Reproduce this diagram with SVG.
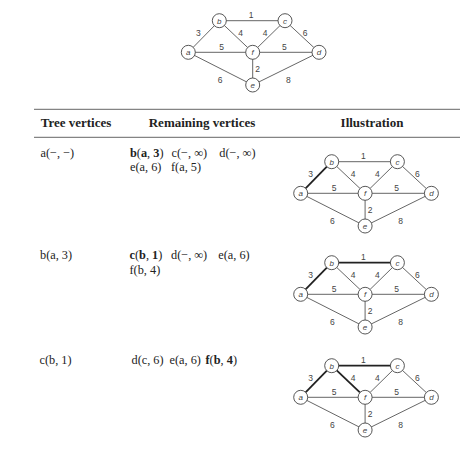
<svg xmlns="http://www.w3.org/2000/svg" width="474" height="449" viewBox="0 0 474 449">
<style>
.e{stroke:#555;stroke-width:0.9;fill:none}
.eb{stroke:#222;stroke-width:1.8;fill:none}
.n circle{fill:#fff;stroke:#444;stroke-width:0.9}
.n text{font-family:"Liberation Sans",Arial,sans-serif;font-size:8px;font-style:italic;fill:#444;text-anchor:middle}
.w{font-family:"Liberation Sans",Arial,sans-serif;font-size:8.5px;fill:#444;text-anchor:middle}
.t{font-family:"Liberation Serif","Times New Roman",serif;font-size:12.3px;fill:#222}
.h{font-family:"Liberation Serif","Times New Roman",serif;font-size:13px;font-weight:bold;fill:#222;text-anchor:middle}
.b{font-weight:bold}
.rule{stroke:#666;stroke-width:1}
</style>
<rect width="474" height="449" fill="#fff"/>
<defs>
<g id="lab">
<text class="w" x="62.7" y="-34.3">1</text>
<text class="w" x="10" y="-16">3</text>
<text class="w" x="52.4" y="-16">4</text>
<text class="w" x="76.7" y="-16">4</text>
<text class="w" x="116.7" y="-16.6">6</text>
<text class="w" x="33.4" y="-2.6">5</text>
<text class="w" x="96" y="-2.6">5</text>
<text class="w" x="69.4" y="20">2</text>
<text class="w" x="31.7" y="30.7">6</text>
<text class="w" x="100" y="30.7">8</text>
</g>
</defs>

<!-- graph 0 -->
<g id="graph0" transform="translate(188.3,52.3)">
<g id="g0-edges">
<line class="e" x1="0" y1="0" x2="31" y2="-31.6"/>
<line class="e" x1="31" y1="-31.6" x2="96.7" y2="-31.6"/>
<line class="e" x1="31" y1="-31.6" x2="64.4" y2="0"/>
<line class="e" x1="96.7" y1="-31.6" x2="64.4" y2="0"/>
<line class="e" x1="96.7" y1="-31.6" x2="130.7" y2="0"/>
<line class="e" x1="0" y1="0" x2="130.7" y2="0"/>
<line class="e" x1="64.4" y1="0" x2="64.4" y2="32.7"/>
<line class="e" x1="0" y1="0" x2="64.4" y2="32.7"/>
<line class="e" x1="130.7" y1="0" x2="64.4" y2="32.7"/>
<use href="#lab"/>
</g>
<g id="g0-a" class="n"><circle cx="0" cy="0" r="7"/><text x="0" y="2.8">a</text></g>
<g id="g0-b" class="n"><circle cx="31" cy="-31.6" r="7"/><text x="31" y="-28.8">b</text></g>
<g id="g0-c" class="n"><circle cx="96.7" cy="-31.6" r="7"/><text x="96.7" y="-28.8">c</text></g>
<g id="g0-f" class="n"><circle cx="64.4" cy="0" r="7"/><text x="64.4" y="2.8">f</text></g>
<g id="g0-d" class="n"><circle cx="130.7" cy="0" r="7"/><text x="130.7" y="2.8">d</text></g>
<g id="g0-e" class="n"><circle cx="64.4" cy="32.7" r="7"/><text x="64.4" y="35.5">e</text></g>
</g>

<!-- table -->
<line class="rule" x1="34" y1="109.3" x2="460" y2="109.3"/>
<line class="rule" x1="34" y1="137.3" x2="460" y2="137.3"/>
<text class="h" x="76" y="127.3">Tree vertices</text>
<text class="h" x="202" y="127.3">Remaining vertices</text>
<text class="h" x="372" y="127.3">Illustration</text>

<text class="t" x="40.5" y="156.7">a(−, −)</text>
<text class="t" x="130" y="156.7"><tspan class="b">b</tspan>(<tspan class="b">a</tspan>, <tspan class="b">3</tspan>)</text>
<text class="t" x="171.5" y="156.7">c(−, ∞)</text>
<text class="t" x="219.3" y="156.7">d(−, ∞)</text>
<text class="t" x="130" y="171">e(a, 6)</text>
<text class="t" x="171" y="171">f(a, 5)</text>

<text class="t" x="40" y="259">b(a, 3)</text>
<text class="t" x="129.5" y="259"><tspan class="b">c</tspan>(<tspan class="b">b</tspan>, <tspan class="b">1</tspan>)</text>
<text class="t" x="171" y="259">d(−, ∞)</text>
<text class="t" x="218.3" y="259">e(a, 6)</text>
<text class="t" x="129.5" y="273.5">f(b, 4)</text>

<text class="t" x="39.5" y="363.5">c(b, 1)</text>
<text class="t" x="131.5" y="363.5">d(c, 6)</text>
<text class="t" x="169.5" y="363.5">e(a, 6)</text>
<text class="t" x="205.5" y="363.5"><tspan class="b">f</tspan>(<tspan class="b">b</tspan>, <tspan class="b">4</tspan>)</text>

<!-- graph 1 -->
<g id="graph1" transform="translate(300.7,193.3)">
<g id="g1-edges">
<line class="eb" x1="0" y1="0" x2="31" y2="-31.6"/>
<line class="e" x1="31" y1="-31.6" x2="96.7" y2="-31.6"/>
<line class="e" x1="31" y1="-31.6" x2="64.4" y2="0"/>
<line class="e" x1="96.7" y1="-31.6" x2="64.4" y2="0"/>
<line class="e" x1="96.7" y1="-31.6" x2="130.7" y2="0"/>
<line class="e" x1="0" y1="0" x2="130.7" y2="0"/>
<line class="e" x1="64.4" y1="0" x2="64.4" y2="32.7"/>
<line class="e" x1="0" y1="0" x2="64.4" y2="32.7"/>
<line class="e" x1="130.7" y1="0" x2="64.4" y2="32.7"/>
<use href="#lab"/>
</g>
<g id="g1-a" class="n"><circle cx="0" cy="0" r="7"/><text x="0" y="2.8">a</text></g>
<g id="g1-b" class="n"><circle cx="31" cy="-31.6" r="7"/><text x="31" y="-28.8">b</text></g>
<g id="g1-c" class="n"><circle cx="96.7" cy="-31.6" r="7"/><text x="96.7" y="-28.8">c</text></g>
<g id="g1-f" class="n"><circle cx="64.4" cy="0" r="7"/><text x="64.4" y="2.8">f</text></g>
<g id="g1-d" class="n"><circle cx="130.7" cy="0" r="7"/><text x="130.7" y="2.8">d</text></g>
<g id="g1-e" class="n"><circle cx="64.4" cy="32.7" r="7"/><text x="64.4" y="35.5">e</text></g>
</g>

<!-- graph 2 -->
<g id="graph2" transform="translate(300.7,294.3)">
<g id="g2-edges">
<line class="eb" x1="0" y1="0" x2="31" y2="-31.6"/>
<line class="eb" x1="31" y1="-31.6" x2="96.7" y2="-31.6"/>
<line class="e" x1="31" y1="-31.6" x2="64.4" y2="0"/>
<line class="e" x1="96.7" y1="-31.6" x2="64.4" y2="0"/>
<line class="e" x1="96.7" y1="-31.6" x2="130.7" y2="0"/>
<line class="e" x1="0" y1="0" x2="130.7" y2="0"/>
<line class="e" x1="64.4" y1="0" x2="64.4" y2="32.7"/>
<line class="e" x1="0" y1="0" x2="64.4" y2="32.7"/>
<line class="e" x1="130.7" y1="0" x2="64.4" y2="32.7"/>
<use href="#lab"/>
</g>
<g id="g2-a" class="n"><circle cx="0" cy="0" r="7"/><text x="0" y="2.8">a</text></g>
<g id="g2-b" class="n"><circle cx="31" cy="-31.6" r="7"/><text x="31" y="-28.8">b</text></g>
<g id="g2-c" class="n"><circle cx="96.7" cy="-31.6" r="7"/><text x="96.7" y="-28.8">c</text></g>
<g id="g2-f" class="n"><circle cx="64.4" cy="0" r="7"/><text x="64.4" y="2.8">f</text></g>
<g id="g2-d" class="n"><circle cx="130.7" cy="0" r="7"/><text x="130.7" y="2.8">d</text></g>
<g id="g2-e" class="n"><circle cx="64.4" cy="32.7" r="7"/><text x="64.4" y="35.5">e</text></g>
</g>

<!-- graph 3 -->
<g id="graph3" transform="translate(300.7,397.3)">
<g id="g3-edges">
<line class="eb" x1="0" y1="0" x2="31" y2="-31.6"/>
<line class="eb" x1="31" y1="-31.6" x2="96.7" y2="-31.6"/>
<line class="eb" x1="31" y1="-31.6" x2="64.4" y2="0"/>
<line class="e" x1="96.7" y1="-31.6" x2="64.4" y2="0"/>
<line class="e" x1="96.7" y1="-31.6" x2="130.7" y2="0"/>
<line class="e" x1="0" y1="0" x2="130.7" y2="0"/>
<line class="e" x1="64.4" y1="0" x2="64.4" y2="32.7"/>
<line class="e" x1="0" y1="0" x2="64.4" y2="32.7"/>
<line class="e" x1="130.7" y1="0" x2="64.4" y2="32.7"/>
<use href="#lab"/>
</g>
<g id="g3-a" class="n"><circle cx="0" cy="0" r="7"/><text x="0" y="2.8">a</text></g>
<g id="g3-b" class="n"><circle cx="31" cy="-31.6" r="7"/><text x="31" y="-28.8">b</text></g>
<g id="g3-c" class="n"><circle cx="96.7" cy="-31.6" r="7"/><text x="96.7" y="-28.8">c</text></g>
<g id="g3-f" class="n"><circle cx="64.4" cy="0" r="7"/><text x="64.4" y="2.8">f</text></g>
<g id="g3-d" class="n"><circle cx="130.7" cy="0" r="7"/><text x="130.7" y="2.8">d</text></g>
<g id="g3-e" class="n"><circle cx="64.4" cy="32.7" r="7"/><text x="64.4" y="35.5">e</text></g>
</g>
</svg>
